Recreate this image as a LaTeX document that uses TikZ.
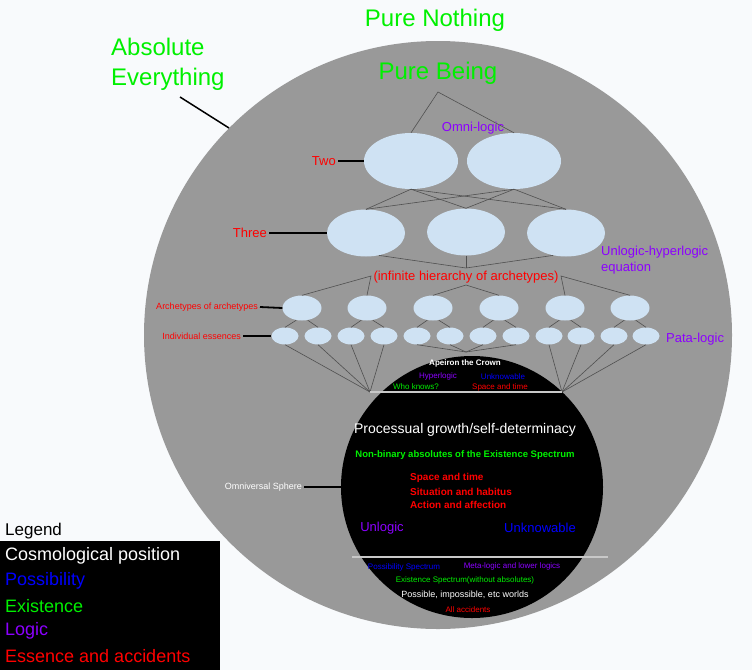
\documentclass[tikz,border=0pt]{standalone}
\usepackage{fontspec}
\setmainfont{Liberation Sans}
\begin{document}
\begin{tikzpicture}[x=1pt,y=-1pt,
  ell/.style={ellipse,fill=ebl,draw=none,inner sep=0pt},
  con/.style={draw=dg,line width=0.6pt},
  lab/.style={line width=1.8pt,black},
  t/.style={inner sep=0pt,font=\fontsize{#1}{#1}\selectfont},
  t/.default=13]
\usetikzlibrary{shapes.geometric}
\definecolor{ebl}{RGB}{207,226,243}
\definecolor{dg}{RGB}{80,80,80}
\definecolor{gr}{RGB}{153,153,153}
\definecolor{bg}{RGB}{248,250,252}
\definecolor{gn}{RGB}{0,240,0}
\definecolor{pu}{RGB}{140,0,255}
\definecolor{rd}{RGB}{255,0,0}
\definecolor{bl}{RGB}{0,0,255}
\definecolor{lg}{RGB}{200,200,200}
\fill[bg] (0,0) rectangle (752,670);
\useasboundingbox (0,0) rectangle (752,670);
\fill[gr] (438,335) circle (294);
\fill[black] (472,487) circle (131);
% legend
\fill[black] (0,541) rectangle (220,670);
\node[t=17,anchor=west] (lg) at (5,531) {Legend};
\node[t=18,anchor=west,white] (l1) at (5,556) {Cosmological position};
\node[t=18,anchor=west,bl] (l2) at (5,581) {Possibility};
\node[t=18,anchor=west,gn] (l3) at (5,606) {Existence};
\node[t=18,anchor=west,pu] (l4) at (5,631) {Logic};
\node[t=18,anchor=west,rd] (l5) at (5,656) {Essence and accidents};
% top texts
\node[t=24,gn] (pn) at (435,20) {Pure Nothing};
\node[t=24,gn] (pb) at (438,73) {Pure Being};
\node[t=24,gn,anchor=west,align=left] (ae) at (111,64) {Absolute\\[6pt]Everything};
\coordinate (aeS) at (180,97);
\coordinate (aeE) at (229,128);
\draw[lab,line width=1.5pt] (aeS) -- (aeE);
% tree
\coordinate (apex) at (438,92);
\node[ell,minimum width=94,minimum height=56] (t1) at (411,161) {};
\node[ell,minimum width=94,minimum height=56] (t2) at (514,161) {};
\node[ell,minimum width=78,minimum height=47] (h1) at (366,233) {};
\node[ell,minimum width=78,minimum height=47] (h2) at (466,232) {};
\node[ell,minimum width=78,minimum height=47] (h3) at (566,233) {};
\draw[con] (t1.north) -- (apex) -- (t2.north);
\foreach \a in {t1,t2}\foreach \b in {h1,h2,h3} \draw[con] (\a.south) -- (\b.north);
\coordinate (hub) at (466,268);
\draw[con] (h1.-60) -- (hub) -- (h3.-120);
\draw[con] (h2.south) -- (hub);
\node[t=13,rd] (inf) at (466,277) {(infinite hierarchy of archetypes)};
\coordinate (infL) at (371,276);
\coordinate (infC) at (466,285);
\coordinate (infR) at (561,276);
\foreach[count=\i] \x in {302,367,433,499,565,630}
  \node[ell,minimum width=39,minimum height=25] (a\i) at (\x,308) {};
\foreach[count=\i] \x in {285,318,351,384,417,450,483,516,549,581,614,646}
  \node[ell,minimum width=27,minimum height=17] (e\i) at (\x,336) {};
\draw[con] (a1.north) -- (infL) -- (a2.north);
\draw[con] (a3.north) -- (infC) -- (a4.north);
\draw[con] (a5.north) -- (infR) -- (a6.north);
\foreach \i in {1,...,6}{
  \pgfmathtruncatemacro{\j}{2*\i-1}\pgfmathtruncatemacro{\k}{2*\i}
  \draw[con] (a\i.-115) -- (e\j.north);
  \draw[con] (a\i.-65) -- (e\k.north);}
\coordinate (cL) at (370,392);
\coordinate (cC) at (466,352);
\coordinate (cR) at (562,392);
\foreach \i in {1,2,3,4} \draw[con] (e\i.south) -- (cL);
\foreach \i in {5,6,7,8} \draw[con] (e\i.south) -- (cC);
\foreach \i in {9,10,11,12} \draw[con] (e\i.south) -- (cR);
\draw[lg,line width=1.2pt] (cL) -- (cR);
% labels on tree
\node[t=13,pu] (omni) at (473,128) {Omni-logic};
\node[t=13,rd,anchor=east] (two) at (336,161) {Two};
\draw[lab] (two.east) ++(2,0) -- (t1.west);
\node[t=13,rd,anchor=east] (three) at (267,233) {Three};
\draw[lab] (three.east) ++(2,0) -- (h1.west);
\node[t=13,pu,anchor=west,align=left] (ul) at (601,260) {Unlogic-hyperlogic\\[3pt]equation};
\node[t=9,rd,anchor=east] (aa) at (258,307) {Archetypes of archetypes};
\draw[lab] (aa.east) ++(2,0) -- (a1.west);
\node[t=9,rd,anchor=east] (ie) at (241,336) {Individual essences};
\draw[lab] (ie.east) ++(2,0) -- (e1.west);
\node[t=13,pu,anchor=west] (pl) at (666,339) {Pata-logic};
% black circle texts
\node[t=8,white] (ap) at (465,363) {\bfseries Apeiron the Crown};
\node[t=8,pu] (hy) at (438,376) {Hyperlogic};
\node[t=8,bl] (un1) at (503,377) {Unknowable};
\node[t=8,gn] (wk) at (416,387) {Who knows?};
\node[t=8,rd] (st1) at (500,387) {Space and time};
\node[t=14,white] (pg) at (465,430) {Processual growth/self-determinacy};
\node[t=9.5,gn] (nb) at (465,455) {\bfseries Non-binary absolutes of the Existence Spectrum};
\node[t=10,rd,anchor=west] (st2) at (410,478) {\bfseries Space and time};
\node[t=10,rd,anchor=west] (sh) at (410,492) {\bfseries Situation and habitus};
\node[t=10,rd,anchor=west] (aaf) at (410,505) {\bfseries Action and affection};
\node[t=13,pu] (ulg) at (382,528) {Unlogic};
\node[t=13,bl] (un2) at (540,528) {Unknowable};
\coordinate (sL) at (352,557);
\coordinate (sR) at (608,557);
\draw[lg,line width=1.2pt] (sL) -- (sR);
\node[t=8,bl] (ps) at (404,567) {Possibility Spectrum};
\node[t=8,pu] (ml) at (512,566) {Meta-logic and lower logics};
\node[t=8,gn] (es) at (465,580) {Existence Spectrum(without absolutes)};
\node[t=9,white] (pw) at (465,595) {Possible, impossible, etc worlds};
\node[t=8,rd] (ac) at (468,610) {All accidents};
\node[t=9,white,anchor=east] (os) at (302,487) {Omniversal Sphere};
\coordinate (osE) at (343,487);
\draw[lab] (os.east) ++(2,0) -- (osE);
\end{tikzpicture}
\end{document}
